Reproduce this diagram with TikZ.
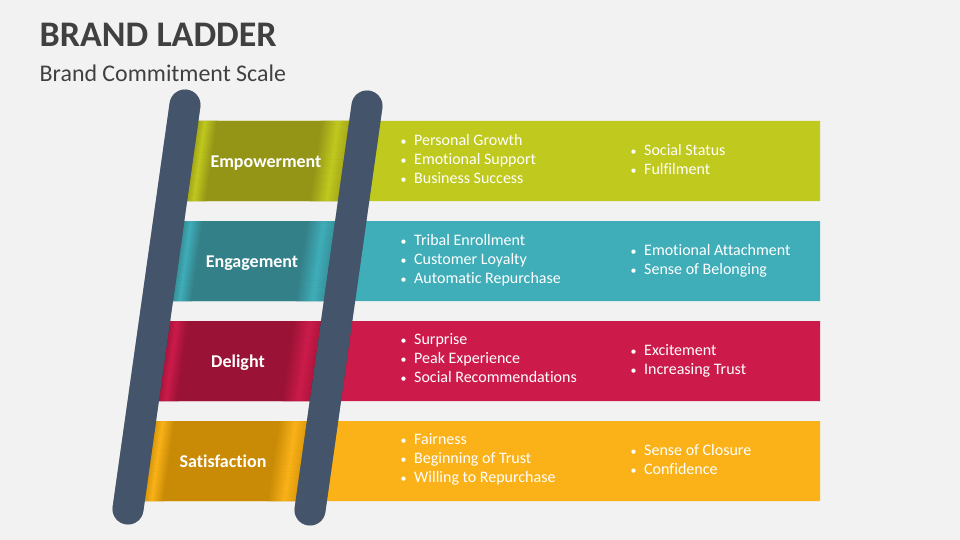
\documentclass[tikz,border=0pt]{standalone}
\usepackage{fontspec}
\setmainfont[Ligatures=NoCommon]{Carlito}
\definecolor{pageBack}{HTML}{F2F2F2}
\definecolor{railBlue}{HTML}{44546A}
\definecolor{inkGrey}{HTML}{404040}
\definecolor{empowerBar}{HTML}{C0C91E}
\definecolor{empowerRung}{HTML}{949517}
\definecolor{engageBar}{HTML}{3FAEB9}
\definecolor{engageRung}{HTML}{348088}
\definecolor{delightBar}{HTML}{CC1B4B}
\definecolor{delightRung}{HTML}{9A1235}
\definecolor{satisfyBar}{HTML}{FAB218}
\definecolor{satisfyRung}{HTML}{C98B06}
\tikzset{
  rail/.style={line width=31pt,line cap=round,railBlue},
  railshade/.style={line width=31pt,line cap=round,black,opacity=.3,xshift=1.5pt,yshift=.5pt},
  rung/.style={font=\bfseries\fontsize{18}{20}\selectfont,text=white,inner sep=0pt,anchor=base},
  points/.style={font=\fontsize{16}{19}\selectfont,text=white,align=left,anchor=west,inner sep=0pt},
}
\newcommand{\pt}{\makebox[13.5pt][l]{\fontsize{12}{12}\selectfont •}}
\begin{document}
\begin{tikzpicture}[x=1pt,y=-1pt]
  \useasboundingbox[fill=pageBack] (0,0) rectangle (960,540);
  \node[anchor=west,inner sep=0pt,text=inkGrey,font=\bfseries\fontsize{36}{40}\selectfont] (title) at (39.5,34.5) {BRAND LADDER};
  \node[anchor=west,inner sep=0pt,text=inkGrey,font=\fontsize{23.9}{28}\selectfont] (subtitle) at (39.5,73) {Brand Commitment Scale};
  % bars and rungs
  \foreach \rowy/\rowname in {121/empower,221/engage,321/delight,421/satisfy} {
    \pgfmathsetmacro{\xa}{185-.141*(\rowy-105)}
    \pgfmathsetmacro{\xb}{\xa-11.28}
    \fill[\rowname Bar] (\xa,\rowy) -- (820,\rowy) -- (820,\rowy+80) -- (\xb,\rowy+80) -- cycle;
    \fill[\rowname Rung] (\xa,\rowy) -- (\xa+182,\rowy) -- (\xb+182,\rowy+80) -- (\xb,\rowy+80) -- cycle;
    \foreach \d in {15,16,...,34} {
      \pgfmathsetmacro{\p}{\d<22 ? 30+70*(\d-15)/7 : 100*(34-\d)/12}
      \fill[\rowname Bar!\p!\rowname Rung] (\xa+\d,\rowy) -- (\xa+\d+1.4,\rowy) -- (\xb+\d+1.4,\rowy+80) -- (\xb+\d,\rowy+80) -- cycle;
    }
    \foreach \d in {138,139,...,167} {
      \pgfmathsetmacro{\p}{\d<155 ? 100*(\d-138)/17 : 100-60*(\d-155)/12}
      \fill[\rowname Bar!\p!\rowname Rung] (\xa+\d,\rowy) -- (\xa+\d+1.4,\rowy) -- (\xb+\d+1.4,\rowy+80) -- (\xb+\d,\rowy+80) -- cycle;
    }
  }
  % ladder rails
  \coordinate (railAtop) at (185,105);
  \coordinate (railAbot) at (128,509);
  \coordinate (railBtop) at (367,106);
  \coordinate (railBbot) at (310,510);
  \draw[railshade] (railAtop) -- (railAbot);
  \draw[railshade] (railBtop) -- (railBbot);
  \draw[rail] (railAtop) -- (railAbot);
  \draw[rail] (railBtop) -- (railBbot);
  % rung labels
  \node[rung] (empowerment) at (266,167.5) {Empowerment};
  \node[rung] (engagement) at (252,267) {Engagement};
  \node[rung] (delight) at (238,367) {Delight};
  \node[rung] (satisfaction) at (223,467) {Satisfaction};
  % bullet lists
  \node[points] (empowerA) at (400.5,159) {\pt Personal Growth\\\pt Emotional Support\\\pt Business Success};
  \node[points] (empowerB) at (630.5,160) {\pt Social Status\\\pt Fulfilment};
  \node[points] (engageA) at (400.5,260.5) {\pt Tribal Enrollment\\\pt Customer Loyalty\\\pt Automatic Repurchase};
  \node[points] (engageB) at (630.5,261) {\pt Emotional Attachment\\\pt Sense of Belonging};
  \node[points] (delightA) at (400.5,358.5) {\pt Surprise\\\pt Peak Experience\\\pt Social Recommendations};
  \node[points] (delightB) at (630.5,361) {\pt Excitement\\\pt Increasing Trust};
  \node[points] (satisfyA) at (400.5,459.5) {\pt Fairness\\\pt Beginning of Trust\\\pt Willing to Repurchase};
  \node[points] (satisfyB) at (630.5,459) {\pt Sense of Closure\\\pt Confidence};
\end{tikzpicture}
\end{document}
